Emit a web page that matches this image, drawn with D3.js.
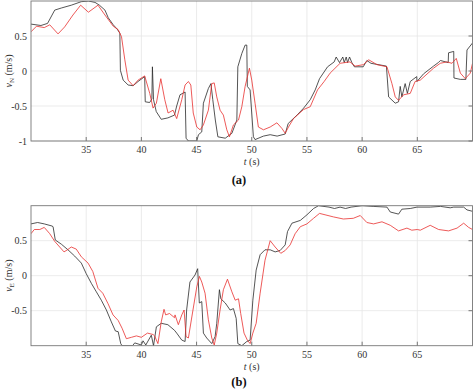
<!DOCTYPE html>
<head>
  <meta charset="utf-8">
  <script src="https://d3js.org/d3.v7.min.js"></script>
  <style>
    body { margin:0; background:#fff; }
    svg { display:block; }
    text { font-family: "Liberation Serif", "DejaVu Serif", serif; fill:#333; }
    .grid line { stroke:#e6e6e6; stroke-width:0.8; }
    .box { fill:none; stroke:#777; stroke-width:0.9; }
    .tick-label { font-size:10px; }
    .line-ref { fill:none; stroke:#2a2a2a; stroke-width:0.8; }
    .line-est { fill:none; stroke:#e8302e; stroke-width:0.8; }
    .panel-label { font-size:12.5px; font-weight:bold; fill:#111; }
  </style>
</head>

<body>
  <script>
    // time axis and tick labels
    var timeDomain = [30, 70];
    var timeTicks = [35, 40, 45, 50, 55, 60, 65];
    var velTicksN = [-1, -0.5, 0, 0.5];
    var velTicksE = [-0.5, 0, 0.5];

    // panel (a): north velocity, [t, v]
    var vnBlack = [[30,0.67],[30.9,0.65],[31.5,0.68],[32.15,0.87],[32.75,0.9],[33.65,0.94],[34.55,0.99],[35.2,1.0],[35.8,0.98],[36.2,0.94],[36.7,0.87],[37.0,0.76],[37.45,0.66],[37.8,0.6],[38.05,0.54],[38.1,0.01],[38.35,-0.13],[38.8,-0.2],[39.25,-0.21],[39.7,-0.15],[40.3,-0.08],[40.35,-0.44],[40.75,-0.45],[40.95,-0.4],[41.0,0.06],[41.1,-0.41],[41.35,-0.58],[41.8,-0.69],[42.4,-0.67],[43.0,-0.63],[43.2,-0.5],[43.5,-0.34],[43.96,-0.3],[44.05,-0.96],[44.26,-1],[45.02,-1],[45.17,-0.91],[45.47,-0.87],[45.62,-0.46],[46.07,-0.25],[46.3,-0.18],[46.47,-0.41],[46.7,-0.7],[46.93,-0.94],[47.6,-0.96],[48.2,-0.89],[48.65,-0.7],[48.74,0.06],[49.1,0.25],[49.4,0.37],[49.55,0.37],[49.6,-0.22],[49.85,-0.27],[50.15,-0.94],[50.3,-0.98],[51.06,-0.93],[51.67,-0.91],[52.3,-0.93],[53.03,-0.9],[53.3,-0.75],[54.1,-0.63],[54.7,-0.53],[55.3,-0.41],[55.75,-0.27],[56.14,-0.11],[56.87,0.06],[57.47,0.13],[57.65,0.2],[57.95,0.12],[58.25,0.2],[58.38,0.12],[58.56,0.2],[58.68,0.12],[58.86,0.2],[59.07,0.12],[59.3,0.06],[60.1,0.06],[60.43,0.15],[60.8,0.11],[62.2,0.07],[62.4,-0.37],[63.0,-0.46],[63.3,-0.44],[63.45,-0.22],[63.6,-0.37],[63.9,-0.18],[64.1,-0.32],[64.36,-0.15],[64.95,-0.08],[64.97,-0.15],[65.57,-0.04],[66.47,0.07],[66.9,0.12],[67.1,0.15],[67.8,0.12],[67.83,0.26],[68.3,0.28],[68.32,-0.1],[68.9,-0.12],[69.4,-0.12],[69.5,0.3],[70,0.4]];
    var vnRed = [[30,0.56],[30.5,0.64],[31.2,0.62],[31.7,0.66],[32.45,0.53],[33.05,0.63],[33.8,0.8],[34.5,0.94],[35.2,0.84],[36.07,0.94],[36.7,0.8],[37.45,0.64],[37.9,0.59],[38.2,0.49],[38.5,0.16],[38.8,-0.13],[39.25,-0.21],[39.7,-0.13],[40.3,-0.07],[40.76,-0.32],[41.06,-0.53],[41.36,-0.46],[41.76,-0.11],[42.12,-0.41],[42.42,-0.6],[42.87,-0.56],[43.2,-0.68],[43.66,-0.41],[43.96,-0.2],[44.26,-0.15],[44.48,-0.2],[44.7,-0.6],[45.02,-0.8],[45.32,-0.84],[45.62,-0.77],[46.07,-0.56],[46.38,-0.18],[46.6,-0.17],[46.83,-0.37],[47.13,-0.56],[47.43,-0.63],[47.74,-0.84],[47.98,-0.94],[48.34,-0.77],[48.8,-0.7],[49.1,-0.51],[49.4,-0.22],[49.79,0.04],[50.0,-0.13],[50.3,-0.46],[50.6,-0.8],[51.06,-0.84],[51.67,-0.8],[52.28,-0.74],[52.73,-0.82],[53.03,-0.89],[53.33,-0.8],[53.78,-0.68],[54.7,-0.55],[55.3,-0.51],[55.96,-0.27],[56.56,-0.15],[57.1,-0.03],[58.0,0.11],[58.9,0.13],[59.37,0.07],[60.1,0.09],[60.6,0.16],[61.35,0.09],[62.25,0.06],[62.7,-0.18],[63.0,-0.37],[63.3,-0.42],[63.75,-0.34],[64.36,-0.32],[64.8,-0.15],[65.27,-0.13],[66.47,0.04],[67.08,0.11],[67.68,0.13],[68.14,0.11],[68.53,0.18],[68.9,-0.03],[69.35,-0.11],[69.8,-0.03],[70,0.11]];

    // panel (b): east velocity, [t, v]
    var veBlack = [[30,0.74],[30.6,0.76],[31.2,0.74],[31.9,0.71],[32.0,0.7],[32.2,0.51],[32.75,0.45],[33.35,0.37],[33.96,0.28],[34.56,0.18],[35.0,0.03],[35.47,-0.11],[35.92,-0.23],[36.37,-0.35],[36.83,-0.49],[37.28,-0.66],[37.65,-0.79],[37.9,-0.8],[38.13,-0.97],[38.25,-1],[39.2,-1],[39.4,-0.96],[40.0,-0.99],[40.15,-0.93],[40.4,-0.99],[40.9,-0.85],[41.1,-1],[41.36,-0.73],[41.8,-0.68],[42.4,-0.7],[43.0,-0.78],[43.2,-0.82],[43.66,-0.92],[43.96,-0.94],[44.1,-0.49],[44.4,-0.09],[44.86,0.01],[45.1,0.1],[45.25,-0.39],[45.47,-0.37],[45.62,-0.82],[45.92,-0.89],[46.38,-0.97],[46.68,-0.87],[46.83,-0.68],[47.07,-0.2],[47.2,-0.33],[47.6,-0.39],[48.04,-0.49],[48.34,-0.47],[48.59,-0.61],[48.74,-0.97],[49.1,-1],[49.55,-0.94],[49.85,-0.92],[50.1,-0.35],[50.4,0.08],[50.76,0.3],[51.2,0.37],[51.67,0.37],[52.12,0.34],[52.57,0.36],[53.03,0.44],[53.24,0.63],[53.64,0.75],[54.4,0.79],[55.0,0.87],[55.6,0.96],[56.05,1.0],[57.0,0.98],[57.5,0.96],[58.0,0.98],[58.5,0.96],[59.0,0.98],[60.0,1.0],[61.0,0.99],[62.25,0.98],[62.55,0.91],[63.3,0.88],[63.6,0.95],[64.36,0.96],[64.97,0.98],[66.17,0.98],[67.1,0.99],[67.98,0.97],[68.3,0.98],[69.2,0.98],[69.5,0.94],[70,0.92]];
    var veRed = [[30,0.6],[30.3,0.66],[30.8,0.66],[31.2,0.69],[31.7,0.6],[32.15,0.49],[32.6,0.41],[32.99,0.34],[33.3,0.37],[33.65,0.41],[34.1,0.38],[34.56,0.27],[35.17,0.18],[35.6,0.06],[36.07,-0.18],[36.5,-0.25],[36.98,-0.4],[37.43,-0.56],[37.9,-0.64],[38.25,-0.75],[38.64,-0.9],[39.1,-0.88],[39.55,-0.86],[40.0,-0.88],[40.55,-0.82],[41.06,-0.84],[41.2,-0.86],[41.5,-0.97],[41.8,-0.66],[42.05,-0.48],[42.2,-0.56],[42.55,-0.54],[43.0,-0.6],[43.05,-0.56],[43.35,-0.7],[43.66,-0.56],[43.87,-0.49],[44.05,-0.87],[44.26,-0.89],[44.57,-0.59],[45.02,-0.16],[45.26,-0.01],[45.47,-0.09],[45.77,-0.25],[46.07,-0.63],[46.38,-0.89],[46.6,-0.99],[46.83,-0.82],[47.13,-0.49],[47.43,-0.2],[47.8,-0.05],[48.2,-0.23],[48.5,-0.35],[48.8,-0.33],[49.0,-0.54],[49.3,-0.82],[49.6,-0.92],[49.85,-0.97],[50.1,-0.82],[50.4,-0.68],[50.76,-0.25],[51.2,0.22],[51.67,0.5],[52.12,0.41],[52.63,0.32],[53.03,0.36],[53.48,0.44],[53.93,0.6],[54.4,0.7],[55.0,0.74],[55.6,0.82],[56.14,0.89],[57.4,0.84],[58.3,0.81],[59.2,0.82],[59.83,0.86],[60.43,0.76],[61.04,0.74],[61.8,0.77],[62.55,0.72],[63.3,0.64],[64.06,0.68],[64.5,0.65],[65.0,0.66],[65.27,0.65],[66.17,0.72],[66.93,0.66],[67.83,0.64],[68.6,0.68],[69.2,0.75],[69.65,0.69],[70,0.66]];

    var W = 474, H = 389;
    var svg = d3.select("body").append("svg")
        .attr("width", W)
        .attr("height", H);

    var x = d3.scaleLinear().domain(timeDomain).range([31, 472.5]);

    function panel(id, top, bottom, ticks, black, red, sub, tag, tagY) {
      var y = d3.scaleLinear().domain([-1, 1]).range([bottom, top]);
      var g = svg.append("g");

      g.append("clipPath").attr("id", "clip" + id)
        .append("rect")
          .attr("x", x.range()[0]).attr("y", top)
          .attr("width", x.range()[1] - x.range()[0])
          .attr("height", bottom - top);

      // grid
      var grid = g.append("g").attr("class", "grid");
      grid.selectAll("line.gx").data(timeTicks).enter().append("line")
        .attr("x1", function(d) { return x(d); })
        .attr("x2", function(d) { return x(d); })
        .attr("y1", top).attr("y2", bottom);
      grid.selectAll("line.gy").data(ticks).enter().append("line")
        .attr("x1", x.range()[0]).attr("x2", x.range()[1])
        .attr("y1", function(d) { return y(d); })
        .attr("y2", function(d) { return y(d); });

      var line = d3.line()
        .x(function(d) { return x(d[0]); })
        .y(function(d) { return y(d[1]); });

      var plot = g.append("g").attr("clip-path", "url(#clip" + id + ")");
      plot.append("path").datum(black).attr("class", "line-ref").attr("d", line);
      plot.append("path").datum(red).attr("class", "line-est").attr("d", line);

      // box with inward ticks, like the original
      g.append("rect").attr("class", "box")
        .attr("x", x.range()[0]).attr("y", top)
        .attr("width", x.range()[1] - x.range()[0])
        .attr("height", bottom - top);
      g.selectAll("line.tx").data(timeTicks).enter().append("line")
        .attr("x1", function(d) { return x(d); })
        .attr("x2", function(d) { return x(d); })
        .attr("y1", bottom).attr("y2", bottom - 4)
        .attr("stroke", "#777");
      g.selectAll("line.ty").data(ticks).enter().append("line")
        .attr("x1", x.range()[1]).attr("x2", x.range()[1] - 4)
        .attr("y1", function(d) { return y(d); })
        .attr("y2", function(d) { return y(d); })
        .attr("stroke", "#777");

      // tick labels
      g.selectAll("text.xl").data(timeTicks).enter().append("text")
        .attr("class", "tick-label")
        .attr("x", function(d) { return x(d); })
        .attr("y", bottom + 12)
        .attr("text-anchor", "middle")
        .text(function(d) { return d; });
      g.selectAll("text.yl").data(ticks).enter().append("text")
        .attr("class", "tick-label")
        .attr("x", 27)
        .attr("y", function(d) { return y(d) + 3.5; })
        .attr("text-anchor", "end")
        .text(function(d) { return d; });

      // axis titles
      var xt = g.append("text").attr("class", "tick-label")
        .attr("x", x(50)).attr("y", bottom + 24).attr("text-anchor", "middle");
      xt.append("tspan").attr("font-style", "italic").text("t");
      xt.append("tspan").text(" (s)");

      var yt = g.append("text").attr("class", "tick-label")
        .attr("transform", "translate(12," + y(0) + ") rotate(-90)")
        .attr("text-anchor", "middle");
      yt.append("tspan").attr("font-style", "italic").text("v");
      yt.append("tspan").attr("font-size", "7px").attr("dy", 2).text(sub);
      yt.append("tspan").attr("dy", -2).text(" (m/s)");

      g.append("text").attr("class", "panel-label")
        .attr("x", 239).attr("y", tagY)
        .attr("text-anchor", "middle")
        .text(tag);
    }

    panel("a", 1, 141, velTicksN, vnBlack, vnRed, "N", "(a)", 184);
    panel("b", 205.7, 345.7, velTicksE, veBlack, veRed, "E", "(b)", 385.5);
  </script>
</body>
